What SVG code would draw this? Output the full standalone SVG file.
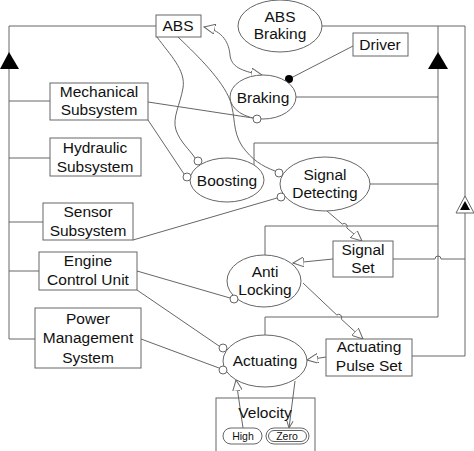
<svg xmlns="http://www.w3.org/2000/svg" width="474" height="451" viewBox="0 0 474 451">
<defs>
<style>
.n{fill:#fff;stroke:#666;stroke-width:1}
.l{fill:none;stroke:#666;stroke-width:1}
.t{font-family:"Liberation Sans",Arial,sans-serif;font-size:15.5px;fill:#111;text-anchor:middle}
.s{font-family:"Liberation Sans",Arial,sans-serif;font-size:10.5px;fill:#111;text-anchor:middle}
.c{fill:#fff;stroke:#666;stroke-width:1}
</style>
<marker id="ah" viewBox="0 0 12 10" refX="11" refY="5" markerWidth="12" markerHeight="10" markerUnits="userSpaceOnUse" orient="auto-start-reverse">
<path d="M0,0 L11,5 L0,10 Z" fill="#fff" stroke="#666" stroke-width="1"/>
</marker>
<marker id="av" viewBox="0 0 10 10" refX="9" refY="5" markerWidth="8" markerHeight="8" markerUnits="userSpaceOnUse" orient="auto">
<path d="M0,1 L9,5 L0,9" fill="none" stroke="#666" stroke-width="1.2"/>
</marker>
</defs>
<rect width="474" height="451" fill="#fff"/>

<g id="connectors">
<path class="l" d="M156,26 H9 V339 H35"/>
<path class="l" d="M9,101 H50 M9,158 H50 M9,222 H43 M9,271 H39"/>
<polygon points="9,52 0,69 19,69" fill="#000"/>
<path class="l" d="M322,26 H465 V356 H412"/>
<path class="l" d="M438,26 V317 H265 V335"/>
<path class="l" d="M296,97 H438"/>
<path class="l" d="M254,165 V143 H438"/>
<path class="l" d="M370,184 H438"/>
<path class="l" d="M265,256 V226 H438"/>
<path class="l" d="M393,259 H435 A3,3 0 0 1 441,259 H465"/>
<polygon points="438,52 428,69 448,69" fill="#000"/>
<polygon points="465,196 456,213 474,213" fill="#fff" stroke="#666"/>
<polygon points="465,201 460,210 470,210" fill="#000"/>
<path class="l" d="M204,27 C224,31 229,44 230,55 C231,66 240,71 262,75" marker-start="url(#ah)" marker-end="url(#ah)"/>
<line class="l" x1="353" y1="46" x2="289" y2="79"/>
<circle cx="289" cy="79" r="4" fill="#000"/>
<line class="l" x1="148" y1="102" x2="253" y2="118"/>
<path class="l" d="M157,37 C170,55 186,70 183,88 C180,105 172,118 176,130 C180,142 190,150 195,158"/>
<path class="l" d="M178,37 C200,58 222,80 230,100 C236,118 232,130 242,146 C252,160 262,166 275,171"/>
<line class="l" x1="148" y1="120" x2="184" y2="174"/>
<line class="l" x1="133" y1="240" x2="277" y2="198"/>
<path class="l" d="M327,211 L342.3,224.1 A3,3 0 0 1 346.8,227.9 L362,241" marker-end="url(#ah)"/>
<line class="l" x1="333" y1="259" x2="293" y2="263" marker-end="url(#ah)"/>
<line class="l" x1="137" y1="271" x2="230" y2="298"/>
<path class="l" d="M303,283 L336.8,315 A3,3 0 0 1 341.2,319 L363,339" marker-end="url(#ah)"/>
<line class="l" x1="326" y1="357" x2="307" y2="360" marker-end="url(#ah)"/>
<line class="l" x1="137" y1="290" x2="219" y2="346"/>
<line class="l" x1="141" y1="339" x2="219" y2="368"/>
<line class="l" x1="243" y1="428" x2="236" y2="380" marker-end="url(#ah)"/>
<line class="l" x1="295" y1="381" x2="289" y2="428" marker-end="url(#av)"/>
</g>

<g id="abs"><rect class="n" x="156" y="15" width="45" height="22"/><text class="t" x="178" y="31">ABS</text></g>
<g id="abs-braking"><ellipse class="n" cx="280" cy="26" rx="42" ry="26"/><text class="t" x="280" y="22">ABS</text><text class="t" x="280" y="39">Braking</text></g>
<g id="driver"><rect class="n" x="353" y="33" width="55" height="23"/><text class="t" x="380" y="50">Driver</text></g>
<g id="braking"><ellipse class="n" cx="263" cy="97" rx="33" ry="22"/><text class="t" x="263" y="103">Braking</text><circle class="c" cx="257" cy="119" r="4"/></g>
<g id="mechanical"><rect class="n" x="50" y="83" width="98" height="37"/><text class="t" x="99" y="97">Mechanical</text><text class="t" x="99" y="115">Subsystem</text></g>
<g id="hydraulic"><rect class="n" x="50" y="138" width="91" height="38"/><text class="t" x="95" y="153">Hydraulic</text><text class="t" x="95" y="172">Subsystem</text></g>
<g id="sensor"><rect class="n" x="43" y="203" width="90" height="37"/><text class="t" x="88" y="217">Sensor</text><text class="t" x="88" y="236">Subsystem</text></g>
<g id="ecu"><rect class="n" x="39" y="252" width="98" height="38"/><text class="t" x="88" y="266">Engine</text><text class="t" x="88" y="285">Control Unit</text></g>
<g id="pms"><rect class="n" x="35" y="308" width="106" height="60"/><text class="t" x="88" y="324">Power</text><text class="t" x="88" y="343">Management</text><text class="t" x="88" y="363">System</text></g>
<g id="boosting"><ellipse class="n" cx="227" cy="180" rx="37" ry="22"/><text class="t" x="227" y="186">Boosting</text><circle class="c" cx="198" cy="161" r="4"/><circle class="c" cx="187" cy="177" r="4"/></g>
<g id="signal-detecting"><ellipse class="n" cx="325" cy="184" rx="45" ry="27"/><text class="t" x="325" y="180">Signal</text><text class="t" x="325" y="198">Detecting</text><circle class="c" cx="279" cy="173" r="4"/><circle class="c" cx="281" cy="197" r="4"/></g>
<g id="signal-set"><rect class="n" x="333" y="241" width="60" height="36"/><text class="t" x="363" y="255">Signal</text><text class="t" x="363" y="273">Set</text></g>
<g id="anti-locking"><ellipse class="n" cx="264" cy="281" rx="37" ry="26"/><text class="t" x="265" y="277">Anti</text><text class="t" x="265" y="295">Locking</text><circle class="c" cx="234" cy="299" r="4"/></g>
<g id="actuating-pulse-set"><rect class="n" x="326" y="339" width="86" height="37"/><text class="t" x="369" y="352">Actuating</text><text class="t" x="369" y="371">Pulse Set</text></g>
<g id="actuating"><ellipse class="n" cx="265" cy="361" rx="42" ry="26"/><text class="t" x="265" y="366">Actuating</text><circle class="c" cx="223" cy="348" r="4"/><circle class="c" cx="223" cy="370" r="4"/></g>
<g id="velocity"><rect x="216" y="398" width="99" height="60" fill="none" stroke="#666"/><text class="t" x="265" y="418">Velocity</text>
<rect class="n" x="223" y="428" width="39" height="16" rx="8"/><text class="s" x="243" y="440">High</text>
<rect class="n" x="266" y="428" width="43" height="16" rx="8"/><rect class="n" x="268.5" y="430.5" width="38" height="11" rx="5.5"/><text class="s" x="287" y="440">Zero</text></g>
</svg>
